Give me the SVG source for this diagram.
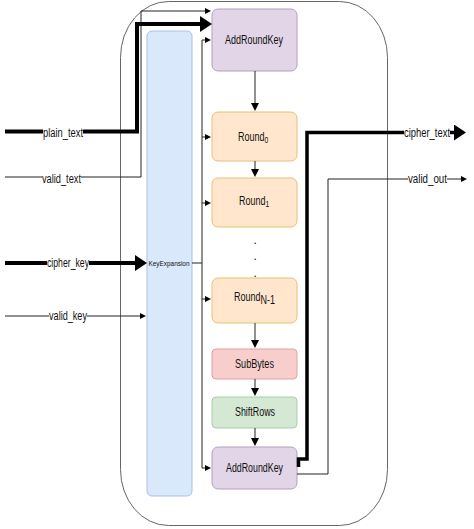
<svg xmlns="http://www.w3.org/2000/svg" width="474" height="529" viewBox="0 0 474 529">
<defs>
<style>
text{font-family:"Liberation Sans",Arial,sans-serif;fill:#111;}
.lbl{font-size:12px;}
.box{font-size:12px;}
.sub{font-size:9px;}
.thin{fill:none;stroke:#222;stroke-width:1;}
.thick{fill:none;stroke:#000;stroke-width:4;}
.bg{fill:#fff;}
</style>
<marker id="ah" markerUnits="userSpaceOnUse" markerWidth="7" markerHeight="6" refX="1" refY="3" orient="auto"><path d="M0,0 L6,3 L0,6 z" fill="#000"/></marker>
<marker id="ahm" markerUnits="userSpaceOnUse" markerWidth="9" markerHeight="9" refX="1" refY="4" orient="auto"><path d="M0,0 L8,4 L0,8 z" fill="#000"/></marker>
<marker id="ahb" markerUnits="userSpaceOnUse" markerWidth="13" markerHeight="17" refX="2" refY="8" orient="auto"><path d="M0,0 L12,8 L0,16 z" fill="#000"/></marker>
</defs>
<g id="container"><rect x="120.5" y="1.5" width="267" height="524" rx="48" ry="56" fill="#fff" stroke="#666" stroke-width="1"/></g>
<g id="keyexpansion"><rect x="147" y="31" width="45" height="465" rx="5" fill="#dae8fc" stroke="#a9c0e0"/><text x="148.5" y="266" style="font-size:8px;" textLength="41" lengthAdjust="spacingAndGlyphs">KeyExpansion</text></g>
<g id="addroundkey1"><rect x="212" y="9" width="85" height="62" rx="6" fill="#e1d5e7" stroke="#b49fc0"/><text class="box" x="225" y="44" textLength="58" lengthAdjust="spacingAndGlyphs">AddRoundKey</text></g>
<g id="round0"><rect x="212" y="112" width="85" height="49" rx="6" fill="#ffe6cc" stroke="#e6c07a"/><text class="box" transform="translate(238,141) scale(0.75,1)">Round<tspan class="sub" dy="2">0</tspan></text></g>
<g id="round1"><rect x="212" y="178" width="85" height="49" rx="6" fill="#ffe6cc" stroke="#e6c07a"/><text class="box" transform="translate(239,205) scale(0.75,1)">Round<tspan class="sub" dy="2">1</tspan></text></g>
<g id="dots"><text class="box" x="253.5" y="244">.</text><text class="box" x="253.5" y="260">.</text><text class="box" x="253.5" y="277">.</text></g>
<g id="roundn1"><rect x="212" y="278" width="85" height="45" rx="6" fill="#ffe6cc" stroke="#e6c07a"/><text class="box" transform="translate(234,301) scale(0.75,1)">Round<tspan dy="3">N-1</tspan></text></g>
<g id="subbytes"><rect x="212" y="349" width="85" height="30" rx="4" fill="#f8cecc" stroke="#dca3a2"/><text class="box" x="235" y="368" textLength="39" lengthAdjust="spacingAndGlyphs">SubBytes</text></g>
<g id="shiftrows"><rect x="212" y="397" width="85" height="31" rx="4" fill="#d5e8d4" stroke="#a9cfa5"/><text class="box" x="235" y="416" textLength="40" lengthAdjust="spacingAndGlyphs">ShiftRows</text></g>
<g id="addroundkey2"><rect x="212" y="447" width="85" height="42" rx="6" fill="#e1d5e7" stroke="#b49fc0"/><text class="box" x="226" y="472" textLength="57" lengthAdjust="spacingAndGlyphs">AddRoundKey</text></g>
<g id="connectors">
<path class="thin" d="M5,177 H141 V11 H206" marker-end="url(#ah)"/>
<path class="thick" d="M5,131.5 H137 V24 H202" marker-end="url(#ahb)"/>
<path class="thick" d="M5,263 H137" marker-end="url(#ahb)"/>
<path class="thin" d="M5,316 H141" marker-end="url(#ah)"/>
<path class="thin" d="M192,263 H202"/>
<path class="thin" d="M202,40 V468"/>
<path class="thin" d="M202,40 H206" marker-end="url(#ah)"/>
<path class="thin" d="M202,137 H206" marker-end="url(#ah)"/>
<path class="thin" d="M202,203 H206" marker-end="url(#ah)"/>
<path class="thin" d="M202,299 H206" marker-end="url(#ah)"/>
<path class="thin" d="M202,468 H206" marker-end="url(#ah)"/>
<path class="thin" d="M255,71 V104" marker-end="url(#ahm)"/>
<path class="thin" d="M255,161 V170" marker-end="url(#ahm)"/>
<path class="thin" d="M255,323 V341" marker-end="url(#ahm)"/>
<path class="thin" d="M255,379 V389" marker-end="url(#ahm)"/>
<path class="thin" d="M255,428 V439" marker-end="url(#ahm)"/>
<path class="thick" d="M298.5,467 V459 H307 V132.5 H456" marker-end="url(#ahb)" style="stroke-width:3.5"/>
<path class="thin" d="M297,474 H328 V179 H462" marker-end="url(#ah)"/>
<rect class="bg" x="43" y="127" width="40" height="12"/><text class="lbl" x="43" y="137" textLength="40" lengthAdjust="spacingAndGlyphs">plain_text</text>
<rect class="bg" x="42" y="174" width="39" height="11"/><text class="lbl" x="42" y="183" textLength="39" lengthAdjust="spacingAndGlyphs">valid_text</text>
<rect class="bg" x="47" y="257" width="42" height="12"/><text class="lbl" x="47" y="267" textLength="42" lengthAdjust="spacingAndGlyphs">cipher_key</text>
<rect class="bg" x="49" y="310" width="38" height="12"/><text class="lbl" x="49" y="320" textLength="38" lengthAdjust="spacingAndGlyphs">valid_key</text>
<rect class="bg" x="404" y="127" width="46" height="12"/><text class="lbl" x="404" y="137" textLength="46" lengthAdjust="spacingAndGlyphs">cipher_text</text>
<rect class="bg" x="408" y="174" width="39" height="11"/><text class="lbl" x="408" y="183" textLength="39" lengthAdjust="spacingAndGlyphs">valid_out</text>
</g>
</svg>
